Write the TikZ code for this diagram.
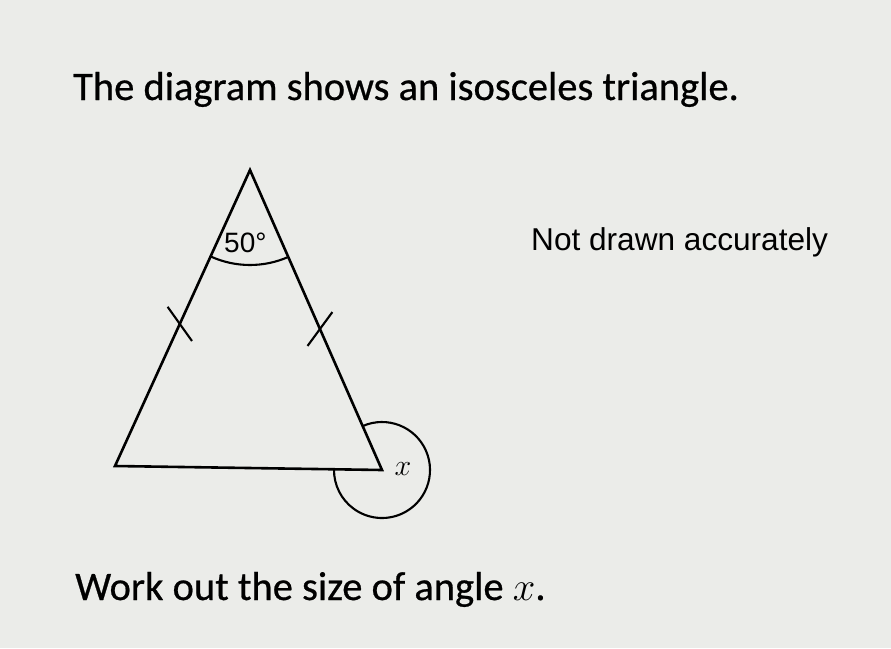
\documentclass[tikz,border=0pt]{standalone}
\usepackage{fix-cm}
\usepackage{fontspec}
\setmainfont[FakeBold=0.6]{Carlito}
\newfontfamily\arialfont{Liberation Sans}
\usetikzlibrary{calc}
\begin{document}
\begin{tikzpicture}[x=1pt,y=-1pt,
  edge/.style={line width=2.6pt,line join=miter},
  thin/.style={line width=2.1pt},
  lbl/.style={inner sep=0pt,anchor=base west}]
\useasboundingbox (0,0) rectangle (891,648);
\fill[fill={rgb,255:red,235;green,236;blue,233}] (0,0) rectangle (891,648);
% vertices
\coordinate (A) at (250,170);
\coordinate (B) at (115,466);
\coordinate (C) at (382,470);
\draw[edge] (A) -- (B) -- (C) -- cycle;
% apex angle arc
\draw[thin] ($(A)!95pt!(B)$) arc[start angle={atan2(-296,-135)},end angle={atan2(-300,132)},radius=95pt];
% tick marks
\coordinate (TL) at ($(A)!0.52!(B)$);
\coordinate (TR) at ($(A)!0.53!(C)$);
\draw[thin] ($(TL)!21pt!60:(B)$) -- ($(TL)!-21pt!60:(B)$);
\draw[thin] ($(TR)!21pt!-60:(C)$) -- ($(TR)!-21pt!-60:(C)$);
% reflex angle circle at C
\draw[thin] ($(C)!48pt!(A)$) arc[start angle={atan2(300,-132)},end angle={atan2(4,-267)-360},radius=48pt];
% labels
\node[inner sep=0pt,anchor=base west,font=\arialfont\fontsize{28}{30}\selectfont] (fifty) at (224,252) {50°};
\node[inner sep=0pt,font=\fontsize{30}{34}\selectfont] (x) at (403,469) {$x$};
\node[lbl,font=\fontsize{40.5}{44}\selectfont] (title) at (73,100) {The diagram shows an isosceles triangle.};
\node[lbl,font=\arialfont\fontsize{31.6}{36}\selectfont] (note) at (531,250) {Not drawn accurately};
\node[lbl,font=\fontsize{40.5}{44}\selectfont] (task) at (75,600) {Work out the size of angle $x$.};
\end{tikzpicture}
\end{document}
